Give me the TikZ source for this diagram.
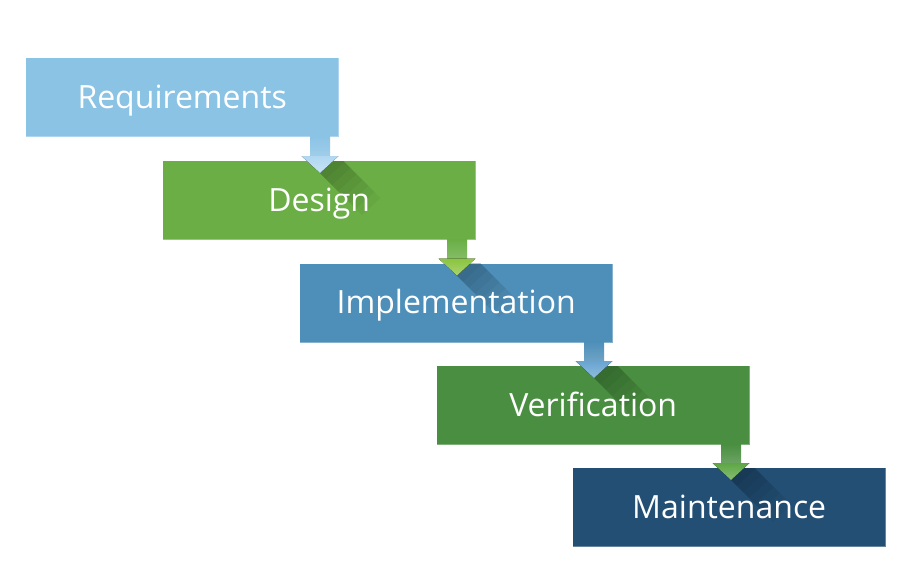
\documentclass[tikz,border=0pt]{standalone}
\usepackage{fontspec}
\setmainfont{Open Sans}
\usetikzlibrary{calc}
\definecolor{creq}{HTML}{8BC3E5}
\definecolor{cdes}{HTML}{6AAE45}
\definecolor{cimp}{HTML}{4E8FB9}
\definecolor{cver}{HTML}{4A8F41}
\definecolor{cmai}{HTML}{244F74}
\definecolor{hreq}{HTML}{B3D9F2}
\definecolor{hdes}{HTML}{8DC63F}
\definecolor{himp}{HTML}{6AA6D2}
\definecolor{hver}{HTML}{5FA845}
\tikzset{
  phase/.style={rectangle, fill=#1, minimum width=312pt, minimum height=78pt,
    inner sep=0pt, anchor=north west},
  edgeline/.style={draw=#1!70!white, line width=0.8pt},
  shadowband/.style={fill=black, fill opacity=0.037},
  lbl/.style={text=white, font=\fontsize{32}{38}\selectfont, inner sep=0pt, anchor=base}
}
\newcommand\wfarrow[4]{%
  \coordinate (#1-s) at ($(#1.south west)+(294pt,0)$);
  \coordinate (#1-t) at (#1-s |- #2.north);
  \begin{scope}
    \clip (#2.south west) rectangle (#2.north east);
    \foreach \L in {6,12,18,24,30,36,42}{
      \fill[shadowband] ($(#1-t)+(-18.5pt,5pt)$) -- ($(#1-t)+(18.5pt,5pt)$)
        -- ($(#1-t)+(18.5pt+\L pt,5pt-\L pt)$) -- ($(#1-t)+(\L pt,-12pt-\L pt)$)
        -- ($(#1-t)+(0,-12pt)$) -- cycle;
    }
  \end{scope}
  \fill[top color=#3, bottom color=#3!82!white] ($(#1-s)+(-10pt,0)$) rectangle ($(#1-t)+(10pt,5pt)$);
  \fill[top color=#4!92!#3, bottom color=#4!75!white] ($(#1-t)+(-18.5pt,5pt)$) -- ($(#1-t)+(18.5pt,5pt)$) -- ($(#1-t)+(0,-12pt)$) -- cycle;
}
\begin{document}
\begin{tikzpicture}[x=1pt,y=1pt]
\useasboundingbox[fill=white] (0,0) rectangle (908,-568);
\node[phase=creq] (req) at (26,-58) {};
\node[phase=cdes] (des) at (163,-161) {};
\node[phase=cimp] (imp) at (300,-263.5) {};
\node[phase=cver] (ver) at (437,-366) {};
\node[phase=cmai] (mai) at (573,-468) {};
\foreach \n/\c in {req/creq,des/cdes,imp/cimp,ver/cver,mai/cmai}{
  \draw[edgeline=\c] (\n.south west) -- (\n.south east) -- (\n.north east);
}
\wfarrow{req}{des}{creq}{hreq}
\wfarrow{des}{imp}{cdes}{hdes}
\wfarrow{imp}{ver}{cimp}{himp}
\wfarrow{ver}{mai}{cver}{hver}
\node[lbl] (treq) at ($(req.center)+(0,-11pt)$) {Requirements};
\node[lbl] (tdes) at ($(des.center)+(0,-11pt)$) {Design};
\node[lbl] (timp) at ($(imp.center)+(0,-11pt)$) {Implementation};
\node[lbl] (tver) at ($(ver.center)+(0,-11pt)$) {Verification};
\node[lbl] (tmai) at ($(mai.center)+(0,-11pt)$) {Maintenance};
\end{tikzpicture}
\end{document}
